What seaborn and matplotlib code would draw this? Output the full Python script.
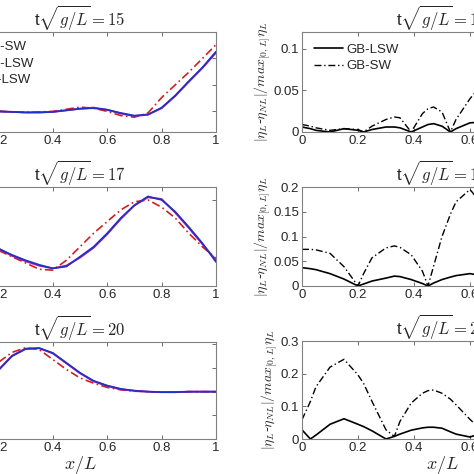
import numpy as np
import pandas as pd
import seaborn as sns
import matplotlib
matplotlib.use("Agg")
import matplotlib.pyplot as plt

# ---- data ----
x_grid = [0.0, 0.05, 0.1, 0.15, 0.2, 0.25, 0.3, 0.35, 0.4, 0.45, 0.5,
          0.55, 0.6, 0.65, 0.7, 0.75, 0.8, 0.85, 0.9, 0.95, 1.0]

# left column: free surface elevation
nl_15 = [0, 0, 0, 0, 0, -0.01, -0.02, -0.02, -0.01, 0.02, 0.05,
         0.06, 0.03, -0.03, -0.08, -0.06, 0.07, 0.30, 0.57, 0.83, 1.13]
lsw_15 = [0, 0, 0, 0, 0, -0.01, -0.02, -0.02, -0.01, 0.02, 0.05,
          0.07, 0.03, -0.04, -0.09, -0.06, 0.06, 0.29, 0.56, 0.82, 1.11]
sw_15 = [0, 0, 0, 0, 0, -0.01, -0.02, -0.01, 0.0, 0.04, 0.08,
         0.06, 0.0, -0.08, -0.11, -0.03, 0.26, 0.50, 0.74, 1.00, 1.26]

nl_17 = [0.45, 0.55, 0.6, 0.55, 0.46, 0.39, 0.33, 0.28, 0.24, 0.26, 0.37,
         0.48, 0.63, 0.80, 0.94, 1.04, 1.00, 0.87, 0.70, 0.52, 0.31]
lsw_17 = [0.45, 0.55, 0.6, 0.55, 0.46, 0.38, 0.32, 0.27, 0.24, 0.27, 0.36,
          0.47, 0.62, 0.79, 0.94, 1.03, 1.01, 0.86, 0.69, 0.51, 0.33]
sw_17 = [0.45, 0.55, 0.6, 0.55, 0.44, 0.37, 0.30, 0.23, 0.22, 0.33, 0.48,
         0.63, 0.76, 0.89, 0.98, 1.00, 0.92, 0.80, 0.63, 0.48, 0.35]

nl_20 = [0.0, 0.05, 0.15, 0.3, 0.45, 0.75, 0.90, 0.92, 0.82, 0.61, 0.40,
         0.23, 0.13, 0.06, 0.02, 0.0, -0.01, -0.01, 0.0, 0.0, 0.0]
lsw_20 = [0.0, 0.05, 0.15, 0.3, 0.46, 0.76, 0.91, 0.92, 0.81, 0.60, 0.39,
          0.22, 0.12, 0.05, 0.02, 0.0, -0.01, -0.01, 0.0, 0.0, 0.0]
sw_20 = [0.0, 0.08, 0.2, 0.4, 0.62, 0.83, 0.93, 0.89, 0.68, 0.47, 0.29,
         0.18, 0.09, 0.04, 0.01, 0.0, -0.01, -0.01, 0.0, 0.0, 0.0]

# right column: normalised errors
x_err = [0.0, 0.03, 0.05, 0.1, 0.15, 0.2, 0.22, 0.25, 0.3, 0.33, 0.35, 0.39,
         0.43, 0.45, 0.47, 0.5, 0.53, 0.55, 0.6, 0.65, 0.7, 0.75, 0.8,
         0.85, 0.9, 0.95, 1.0]
lsw_err_15 = [0.006, 0.004, 0.002, 0.0, 0.004, 0.002, 0.0, 0.003, 0.006, 0.006, 0.005, 0.0,
              0.006, 0.009, 0.010, 0.007, 0.0, 0.004, 0.011, 0.012, 0.008, 0.0, 0.008,
              0.012, 0.008, 0.003, 0.0]
sw_err_15 = [0.009, 0.007, 0.005, 0.002, 0.004, 0.003, 0.0, 0.007, 0.015, 0.018, 0.017, 0.0,
             0.022, 0.028, 0.030, 0.024, 0.0, 0.015, 0.040, 0.060, 0.070, 0.055, 0.02,
             0.03, 0.05, 0.04, 0.01]

lsw_err_17 = [0.037, 0.035, 0.033, 0.025, 0.014, 0.0, 0.004, 0.010, 0.016, 0.020, 0.019, 0.013,
              0.005, 0.0, 0.006, 0.013, 0.018, 0.021, 0.025, 0.020, 0.010, 0.0, 0.012,
              0.020, 0.018, 0.010, 0.0]
sw_err_17 = [0.074, 0.074, 0.073, 0.066, 0.039, 0.0, 0.025, 0.057, 0.077, 0.081, 0.078, 0.063,
             0.030, 0.0, 0.040, 0.100, 0.145, 0.170, 0.195, 0.160, 0.100, 0.030, 0.05,
             0.09, 0.08, 0.04, 0.0]

lsw_err_20 = [0.028, 0.0, 0.012, 0.045, 0.062, 0.045, 0.038, 0.025, 0.0, 0.008, 0.015, 0.027,
              0.034, 0.036, 0.036, 0.033, 0.022, 0.015, 0.006, 0.020, 0.025, 0.018, 0.005,
              0.012, 0.015, 0.008, 0.0]
sw_err_20 = [0.059, 0.115, 0.160, 0.220, 0.244, 0.196, 0.170, 0.115, 0.028, 0.008, 0.054, 0.110,
             0.140, 0.148, 0.150, 0.140, 0.122, 0.105, 0.060, 0.020, 0.06, 0.09, 0.08,
             0.05, 0.03, 0.01, 0.0]

times = ["15", "17", "20"]
left_series = [(nl_15, lsw_15, sw_15), (nl_17, lsw_17, sw_17), (nl_20, lsw_20, sw_20)]
right_series = [(lsw_err_15, sw_err_15), (lsw_err_17, sw_err_17), (lsw_err_20, sw_err_20)]
left_ylims = [(-0.39, 1.46), (0.044, 1.144), (-1.0, 1.05)]
left_yticks = [[0, 0.5, 1.0, 1.5], [1.0], [-1.0, -0.5, 0, 0.5, 1.0]]
right_ylims = [(0, 0.12), (0, 0.2), (0, 0.3)]
right_yticks = [[0, 0.05, 0.1], [0, 0.05, 0.1, 0.15, 0.2], [0, 0.1, 0.2, 0.3]]

sns.set_style("ticks")
plt.rcParams["font.family"] = ["Liberation Sans", "DejaVu Sans"]
plt.rcParams["mathtext.fontset"] = "cm"
plt.rcParams["xtick.direction"] = "in"
plt.rcParams["ytick.direction"] = "in"
plt.rcParams["axes.edgecolor"] = "#808080"

fig = plt.figure(figsize=(4.74, 4.74), dpi=100)
W = 474.0

# axes boxes in pixel units: (left, top, right, bottom)
left_boxes = [(-56, 32, 216, 132), (-56, 187, 216, 286), (-56, 342, 216, 439)]
right_boxes = [(302, 32, 582, 132), (302, 187, 582, 286), (302, 341, 582, 439)]


def add_ax(box):
    l, t, r, b = box
    return fig.add_axes([l / W, 1 - b / W, (r - l) / W, (b - t) / W])


def style(ax):
    ax.set_xlim(0, 1)
    ax.set_xticks([0, 0.2, 0.4, 0.6, 0.8, 1.0])
    ax.set_xticklabels(["0", "0.2", "0.4", "0.6", "0.8", "1"])
    ax.tick_params(top=True, right=True, length=3, width=0.6, color="#555555",
                   labelsize=9.5, pad=2)
    for s in ax.spines.values():
        s.set_linewidth(0.8)
        s.set_visible(True)


for i in range(3):
    # left panel
    ax = add_ax(left_boxes[i])
    nl, lsw, sw = left_series[i]
    df = pd.DataFrame({"x": x_grid, "nl": nl, "lsw": lsw, "sw": sw})
    sns.lineplot(data=df, x="x", y="sw", ax=ax, color="#d02020", lw=1.2,
                 linestyle=(0, (5, 2, 1, 2)), label="GB-SW")
    sns.lineplot(data=df, x="x", y="lsw", ax=ax, color="#a0209a", lw=1.4, label="GB-LSW")
    sns.lineplot(data=df, x="x", y="nl", ax=ax, color="#2030c8", lw=1.2, label="NL-LSW")
    style(ax)
    ax.set_ylim(*left_ylims[i])
    ax.set_yticks(left_yticks[i])
    ax.set_ylabel("")
    ax.set_xlabel("")
    ax.set_title(r"t$\sqrt{g/L}=" + times[i] + "$", fontsize=12, pad=4)
    if i == 0:
        ax.legend(loc="upper left", bbox_to_anchor=(-0.018, 1.0), frameon=False,
                  fontsize=9.5, handlelength=2.2, handletextpad=0.3,
                  labelspacing=0.3, borderaxespad=0.3)
    else:
        ax.get_legend().remove()
    if i == 2:
        ax.set_xlabel(r"$x/L$", fontsize=13, labelpad=0)

    # right panel
    ax = add_ax(right_boxes[i])
    lsw_e, sw_e = right_series[i]
    de = pd.DataFrame({"x": x_err, "lsw": lsw_e, "sw": sw_e})
    sns.lineplot(data=de, x="x", y="lsw", ax=ax, color="black", lw=1.2, label="GB-LSW")
    sns.lineplot(data=de, x="x", y="sw", ax=ax, color="black", lw=1.0,
                 linestyle=(0, (5, 2, 1, 2)), label="GB-SW")
    style(ax)
    ax.set_ylim(*right_ylims[i])
    ax.set_yticks(right_yticks[i])
    ax.set_yticklabels([("%g" % v) for v in right_yticks[i]])
    ax.set_xlabel("")
    ax.set_ylabel(r"$|\eta_L$-$\eta_{NL}|/max_{[0,L]}\eta_L$", fontsize=10, labelpad=1)
    ax.set_title(r"t$\sqrt{g/L}=" + times[i] + "$", fontsize=12, pad=4)
    if i == 0:
        ax.legend(loc="upper left", frameon=False, fontsize=9.5, handlelength=2.2,
                  handletextpad=0.3, labelspacing=0.3, borderaxespad=0.5)
    else:
        ax.get_legend().remove()
    if i == 2:
        ax.set_xlabel(r"$x/L$", fontsize=13, labelpad=0)

fig.savefig("out.png", dpi=100)
